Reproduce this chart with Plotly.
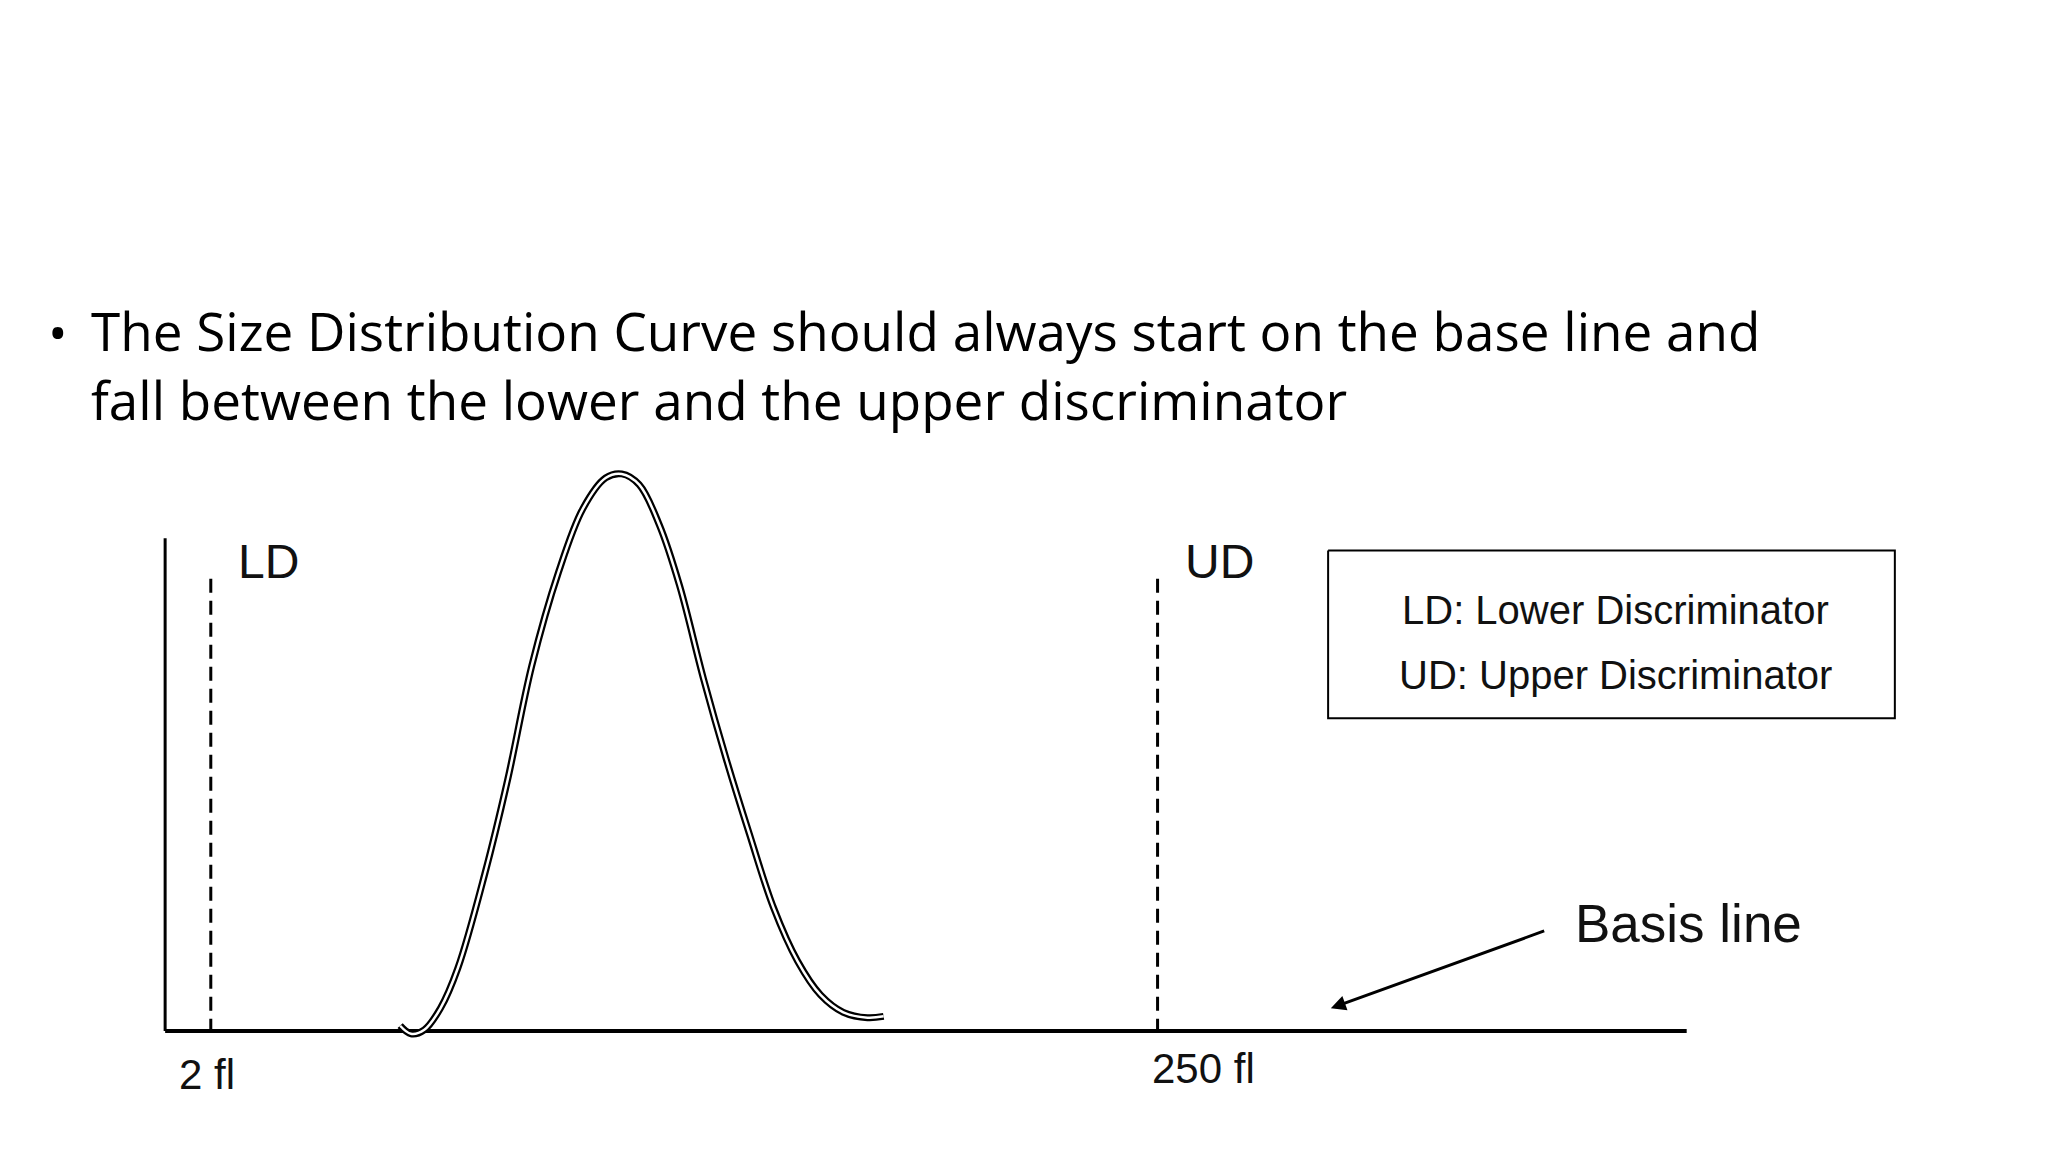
import plotly.graph_objects as go

# Data (in slide units)
curve_x = [292, 300, 310, 322, 335, 355, 372, 390, 410, 428, 445, 457, 470, 485, 500, 518, 535, 552, 570, 588, 605, 622, 640, 652]
curve_y = [758, 764, 761, 745, 715, 645, 575, 490, 420, 373, 350, 347, 355, 385, 430, 500, 560, 615, 670, 710, 735, 748, 752, 751]
base_x = [117, 1250]
base_y = [762, 762]
yaxis_x = [117, 117]
yaxis_y = [395, 762]
ld_x = [151, 151]
ud_x = [856, 856]
disc_y = [425, 762]
box_x = [983, 1405, 1405, 983, 983]
box_y = [404, 404, 529, 529, 404]

W, H = 2048, 1152

fig = go.Figure()

# Axes-like lines
fig.add_trace(go.Scatter(x=base_x, y=base_y, mode="lines", line=dict(color="black", width=4)))
fig.add_trace(go.Scatter(x=yaxis_x, y=yaxis_y, mode="lines", line=dict(color="black", width=3)))
fig.add_trace(go.Scatter(x=ld_x, y=disc_y, mode="lines", line=dict(color="black", width=3, dash="14px,8px")))
fig.add_trace(go.Scatter(x=ud_x, y=disc_y, mode="lines", line=dict(color="black", width=3, dash="14px,8px")))
fig.add_trace(go.Scatter(x=box_x, y=box_y, mode="lines", line=dict(color="black", width=2)))

# Double-line curve: thick black under thin white
fig.add_trace(go.Scatter(x=curve_x, y=curve_y, mode="lines", line=dict(color="black", width=7, shape="spline")))
fig.add_trace(go.Scatter(x=curve_x, y=curve_y, mode="lines", line=dict(color="white", width=2.5, shape="spline")))

txt_font = dict(family="Liberation Sans, Arial", color="#111")
labels = [
    (170, 412, "LD", 48, "left"),
    (875, 412, "UD", 48, "left"),
    (126, 794, "2 fl", 42, "left"),
    (850, 790, "250 fl", 42, "left"),
    (1197, 448, "LD: Lower Discriminator", 40, "center"),
    (1197, 497, "UD: Upper Discriminator", 40, "center"),
    (1165, 682, "Basis line", 53, "left"),
]
for x, y, t, size, anchor in labels:
    fig.add_annotation(x=x, y=y, text=t, showarrow=False, xanchor=anchor, yanchor="middle",
                       font=dict(size=size, **txt_font))

fig.add_annotation(x=985, y=745, ax=1145, ay=687, axref="x", ayref="y", text="",
                   showarrow=True, arrowhead=2, arrowsize=1, arrowwidth=3, arrowcolor="black")

fig.add_annotation(x=28, y=241, text="•", showarrow=False, xanchor="left", yanchor="middle",
                   font=dict(family="Open Sans", size=52, color="black"))
fig.add_annotation(x=60, y=266, text="The Size Distribution Curve should always start on the base line and<br>fall between the lower and the upper discriminator",
                   showarrow=False, xanchor="left", yanchor="middle", align="left",
                   font=dict(family="Open Sans", size=53, color="black"))

fig.update_layout(
    width=W, height=H, showlegend=False,
    margin=dict(l=0, r=0, t=0, b=0),
    plot_bgcolor="white", paper_bgcolor="white",
    xaxis=dict(range=[0, 1525], visible=False, fixedrange=True),
    yaxis=dict(range=[858, 0], visible=False, fixedrange=True),
)

fig.write_html("out.html")
